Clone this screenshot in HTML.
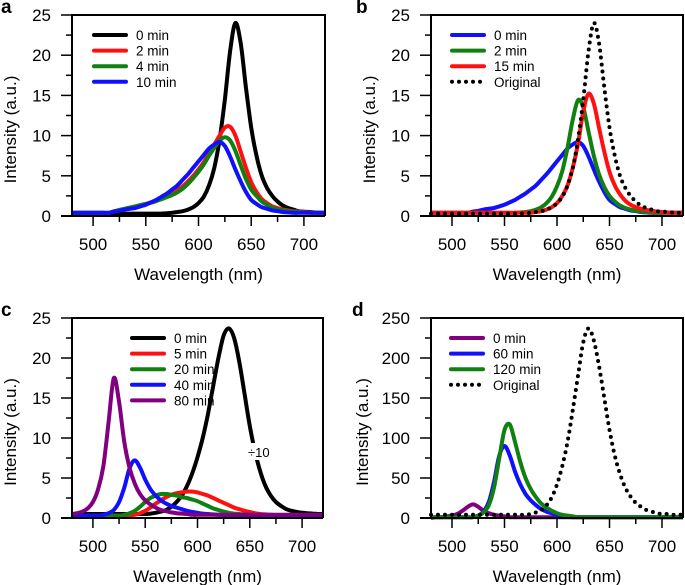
<!DOCTYPE html>
<html><head><meta charset="utf-8"><style>
body{margin:0;background:#fff;}
svg{display:block;font-family:"Liberation Sans",sans-serif;}
</style></head><body>
<svg id="fig" width="685" height="585" viewBox="0 0 685 585" xmlns="http://www.w3.org/2000/svg"></svg>
<script>
const wl=[];for(let w=480;w<=720;w+=5)wl.push(w);
const rep=(v,n)=>Array(n).fill(v);
// Panel a
const aBlack=[...rep(0.3,18),0.35,0.4,0.5,0.6,0.8,1.1,1.6,2.4,3.8,6,9.5,14.5,20.5,24,21.5,16,11,7.5,5,3.5,2.5,1.8,1.3,1,0.8,0.6,0.55,0.5,0.45,0.4,0.4];
const aRed=[...rep(0.4,8),0.6,0.75,0.9,1.05,1.2,1.35,1.5,1.7,1.9,2.2,2.5,2.8,3.2,3.7,4.3,5,5.8,6.7,7.8,8.9,10,11,11.1,10,8,6,4.2,3,2.1,1.6,1.2,1,0.8,0.7,0.6,0.55,0.5,0.45,0.4,0.4,0.4];
const aGreen=[...rep(0.4,8),0.6,0.75,0.9,1.05,1.2,1.35,1.5,1.65,1.85,2.1,2.35,2.6,2.95,3.4,4,4.7,5.5,6.4,7.5,8.5,9.4,9.8,9.4,8.1,6.3,4.6,3.3,2.5,1.8,1.4,1,0.85,0.7,0.6,0.55,0.5,0.45,0.4,0.4,0.4,0.4];
const aBlue=[...rep(0.4,8),0.55,0.65,0.8,0.9,1,1.2,1.4,1.7,2,2.4,2.8,3.3,3.8,4.5,5.2,6,6.8,7.6,8.4,8.9,9.2,8.7,7.4,5.8,4.3,3,2,1.5,1.1,0.9,0.7,0.6,0.5,0.45,0.4,0.4,0.4,0.4,0.4,0.4,0.4];
// Panel b
const bOrig=aBlack.slice();
const bBlue=aBlue.slice();
const bGreen=[...rep(0.4,17),0.45,0.5,0.6,0.8,1.1,1.6,2.4,3.7,5.6,8.5,12,14.4,13.5,10.5,7.5,5.2,3.6,2.5,1.8,1.3,1,0.8,0.65,0.55,0.5,0.45,0.4,...rep(0.4,5)];
const bRed=[...rep(0.4,20),0.5,0.6,0.8,1.1,1.6,2.5,3.8,6,9,13,15.2,14,11,8,5.5,3.8,2.7,1.9,1.4,1.1,0.9,0.75,0.65,0.55,0.5,0.45,0.4,0.4,0.4];
// Panel c
const cBlack=[...rep(0.5,15),0.55,0.65,0.8,1,1.4,2,2.8,4,5.6,7.6,10,13,16.5,20,22.8,23.7,22.5,19.5,15.5,11.5,8.3,5.8,4,2.8,2,1.5,1.1,0.9,0.75,0.65,0.6,0.55,0.5,0.5];
const cRed=[...rep(0.3,11),0.35,0.4,0.6,0.9,1.3,1.8,2.2,2.6,2.9,3.1,3.2,3.3,3.3,3.2,3,2.8,2.5,2.2,1.9,1.6,1.3,1.1,0.9,0.75,0.6,0.5,0.45,0.4,0.35,...rep(0.3,9)];
const cGreen=[...rep(0.3,10),0.4,0.6,0.9,1.4,2,2.5,2.8,3,3,2.9,2.8,2.6,2.5,2.3,2.1,1.8,1.5,1.2,1,0.8,0.65,0.55,0.5,0.45,0.4,0.35,...rep(0.3,13)];
const cBlue=[...rep(0.3,6),0.4,0.6,1,2,3.8,6.2,7.2,6.3,4.8,3.6,2.8,2.2,1.8,1.5,1.3,1.1,0.9,0.75,0.65,0.55,0.5,0.45,0.4,0.35,...rep(0.3,19)];
const cPurple=[0.5,0.6,0.8,1.2,2,3.6,6.5,12,17.5,14.5,9.5,6.3,4.3,3,2.2,1.7,1.3,1,0.85,0.7,0.6,0.55,0.5,...rep(0.4,26)];
// Panel d
const dOrig=[...rep(4,19),5,7,10,16,26,42,65,95,135,178,220,237,222,190,150,110,78,55,38,27,19,14,10,8,6,5,5,4,4,4];
const dPurple=[0,1,1,2,3,5,9,14,17,14,9,6,4,3,2,...rep(1,34)];
const dBlue=[...rep(1,9),3,8,20,45,78,90,78,58,42,30,22,16,11,8,6,4,3,2,...rep(1,22)];
const dGreen=[...rep(1,9),3,7,16,38,75,110,117,95,70,50,36,26,18,13,9,6,4,3,2,...rep(1,21)];
const xTicks=[500,550,600,650,700];
const yTicksSmall=[0,5,10,15,20,25];
const yTicksBig=[0,50,100,150,200,250];

const NS="http://www.w3.org/2000/svg";
const fig=document.getElementById('fig');
function mk(tag,attrs,parent,text){const e=document.createElementNS(NS,tag);for(const k in attrs)e.setAttribute(k,attrs[k]);if(text!==undefined)e.textContent=text;(parent||fig).appendChild(e);return e;}
function smooth(pts){
  let d='M'+pts[0][0].toFixed(1)+' '+pts[0][1].toFixed(1);
  for(let i=0;i<pts.length-1;i++){
    const p0=pts[Math.max(i-1,0)],p1=pts[i],p2=pts[i+1],p3=pts[Math.min(i+2,pts.length-1)];
    const c1=[p1[0]+(p2[0]-p0[0])/6,p1[1]+(p2[1]-p0[1])/6],c2=[p2[0]-(p3[0]-p1[0])/6,p2[1]-(p3[1]-p1[1])/6];
    d+=`C${c1[0].toFixed(1)} ${c1[1].toFixed(1)} ${c2[0].toFixed(1)} ${c2[1].toFixed(1)} ${p2[0].toFixed(1)} ${p2[1].toFixed(1)}`;
  }
  return d;
}
function panel(p){
  const g=mk('g',{});
  
  
  const L=p.x0,R=p.x1,T=p.y0,B=p.y1;
  const sx=w=>L+(w-480)/(720-480)*(R-L);
  const sy=v=>B-v/p.ymax*(B-T);
  p.series.forEach(s=>{
    const pts=s.vals.map((v,i)=>[sx(wl[i]),sy(v)]);
    const path=mk('path',{d:smooth(pts),fill:'none',stroke:s.color,'stroke-width':4,'stroke-linejoin':'round','stroke-linecap':s.dot?'round':'butt','stroke-dasharray':s.dot?'0 7':'none'},g);
    
    
  });
  const fr=mk('path',{d:`M${L} ${B}V${T}H${R}V${B}`,fill:'none',stroke:'#000','stroke-width':2},g);
  
  
  const xa=mk('line',{x1:L-11,x2:R,y1:B,y2:B,stroke:'#000','stroke-width':2},g);
  
  
  for(let w=500;w<=700;w+=25){const maj=w%50===0;mk('line',{x1:sx(w),x2:sx(w),y1:B,y2:B+(maj?10:6),stroke:'#000','stroke-width':1.5},g);}
  xTicks.forEach(w=>{const t=mk('text',{x:sx(w),y:B+34,'text-anchor':'middle','font-size':17},g,w);
    
    });
  const yt=p.yticks,step=yt[1]-yt[0];
  for(let v=0;v<=p.ymax;v+=step/2){const maj=Math.abs(v/step-Math.round(v/step))<1e-6;mk('line',{x1:L,x2:L-(maj?11:6),y1:sy(v),y2:sy(v),stroke:'#000','stroke-width':1.5},g);}
  yt.forEach(v=>{const t=mk('text',{x:L-21,y:sy(v)+6,'text-anchor':'end','font-size':17},g,v);
    
    });
  const xt=mk('text',{x:(L+R)/2,y:B+64,'text-anchor':'middle','font-size':17},g,'Wavelength (nm)');
  
  
  const ytt=mk('text',{x:0,y:0,transform:`translate(${p.ylx},${(T+B)/2+14}) rotate(-90)`,'text-anchor':'middle','font-size':17},g,'Intensity (a.u.)');
  
  
  const lt=mk('text',{x:p.lx,y:p.ly,'font-size':19,'font-weight':'bold'},g,p.letter);
  
  
  p.series.forEach((s,i)=>{
    const y=p.legY+i*15.6;
    const le=mk('g',{},g);
    
    
    mk('line',{x1:p.legX,x2:p.legX+32,y1:y,y2:y,stroke:s.color,'stroke-width':4,'stroke-linecap':'round','stroke-dasharray':s.dot?'0 7':'none'},le);
    mk('text',{x:p.legX+42,y:y+5,'font-size':13.5},le,s.name);
  });
  return {sx,sy,g};
}
const K='#000',Rd='#ff1010',G='#108010',Bl='#1010ff',P='#800080';
panel({letter:'a',x0:72,x1:325,y0:15,y1:216,ymax:25,yticks:yTicksSmall,ylx:16,lx:1,ly:13,legX:94,legY:35,
  series:[{name:'0 min',color:K,vals:aBlack},{name:'2 min',color:Rd,vals:aRed},{name:'4 min',color:G,vals:aGreen},{name:'10 min',color:Bl,vals:aBlue}]});
panel({letter:'b',x0:431,x1:683,y0:15,y1:216,ymax:25,yticks:yTicksSmall,ylx:375,lx:356,ly:13,legX:452,legY:35,
  series:[{name:'0 min',color:Bl,vals:bBlue},{name:'2 min',color:G,vals:bGreen},{name:'15 min',color:Rd,vals:bRed},{name:'Original',color:K,vals:bOrig,dot:true}]});
const pc=panel({letter:'c',x0:72,x1:323,y0:318,y1:518,ymax:25,yticks:yTicksSmall,ylx:16,lx:1,ly:316,legX:132,legY:338,
  series:[{name:'0 min',color:K,vals:cBlack},{name:'5 min',color:Rd,vals:cRed},{name:'20 min',color:G,vals:cGreen},{name:'40 min',color:Bl,vals:cBlue},{name:'80 min',color:P,vals:cPurple}]});
const pd=panel({letter:'d',x0:431,x1:683,y0:318,y1:518,ymax:250,yticks:yTicksBig,ylx:368,lx:352,ly:316,legX:451,legY:338,
  series:[{name:'0 min',color:P,vals:dPurple},{name:'60 min',color:Bl,vals:dBlue},{name:'120 min',color:G,vals:dGreen},{name:'Original',color:K,vals:dOrig,dot:true}]});
mk('rect',{x:246,y:443,width:24,height:17,fill:'#fff'},pc.g);
const dv=mk('text',{x:248,y:457,'font-size':13},pc.g,'÷10');


</script>
</body></html>
